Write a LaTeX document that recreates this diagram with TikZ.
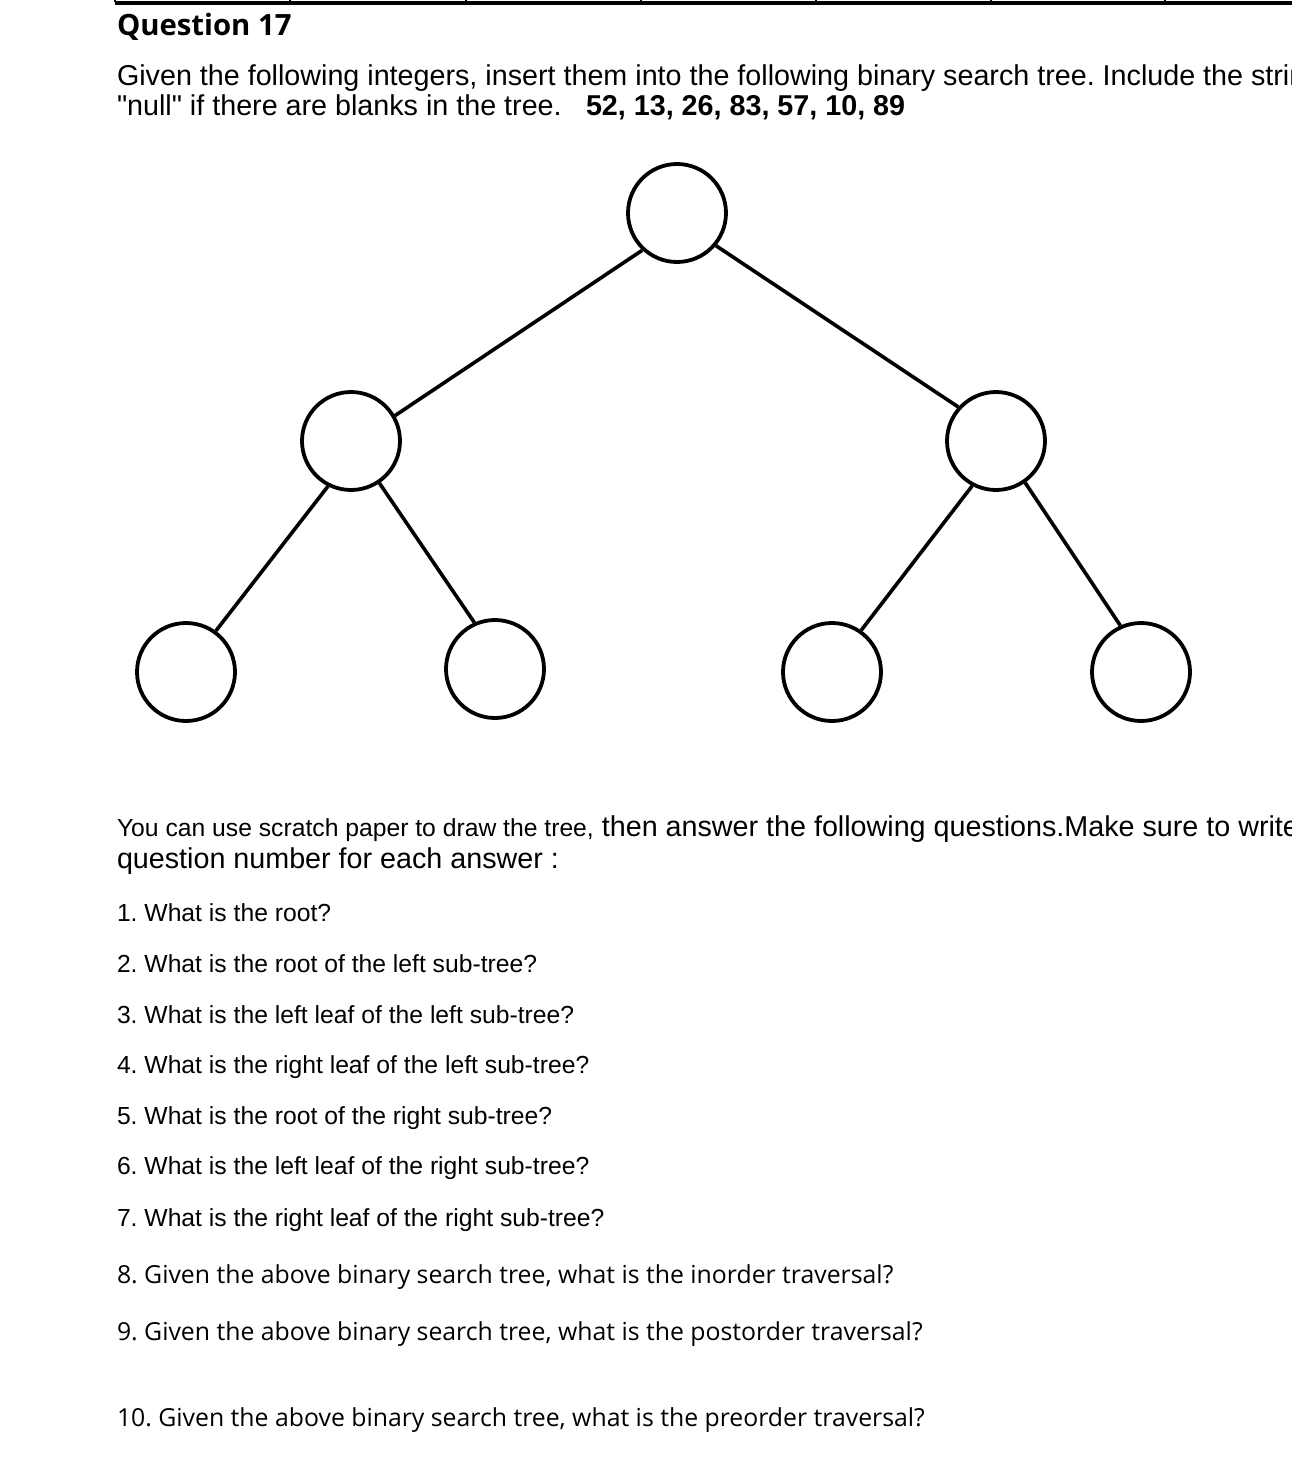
\documentclass[tikz,border=0pt]{standalone}
\usepackage{fontspec}
\newfontfamily\arialf{Liberation Sans}
\newfontfamily\osans{Open Sans}
\frenchspacing
\begin{document}
\begin{tikzpicture}[x=1pt,y=-1pt,
  tnode/.style={circle, draw, line width=3.8pt, minimum size=98pt, inner sep=0pt},
  edge/.style={line width=3.6pt},
  txt/.style={anchor=base west, inner sep=0pt, outer sep=0pt},
  big/.style={font=\arialf\fontsize{28.7}{33}\selectfont},
  item/.style={font=\arialf\fontsize{24.7}{30}\selectfont},
  oitem/.style={font=\osans\fontsize{24.8}{30}\selectfont}]
\useasboundingbox (0,0) rectangle (1292,1466);
\clip (0,0) rectangle (1292,1466);
\fill[white] (0,0) rectangle (1292,1466);
% table border at top
\fill[black] (115,1.5) rectangle (1292,5.5);
\foreach \x in {115,290,466,641,816,991,1165} \fill[black] (\x-1,0) rectangle (\x+1,2.5);
% title and statement
\node[txt, font=\osans\bfseries\fontsize{29.3}{34}\selectfont] (title) at (117,36) {Question 17};
\node[txt, big] (g1) at (117,86) {Given the following integers, insert them into the following binary search tree. Include the string};
\node[txt, big] (g2) at (117,116) {"null" if there are blanks in the tree.};
\node[txt, font=\arialf\bfseries\fontsize{28.7}{33}\selectfont] (nums) at (586,116) {52, 13, 26, 83, 57, 10, 89};
% tree
\node[tnode] (r) at (677,213) {};
\node[tnode] (a) at (351,441) {};
\node[tnode] (b) at (996,441) {};
\node[tnode] (c) at (186,672) {};
\node[tnode] (d) at (495,669) {};
\node[tnode] (e) at (832,672) {};
\node[tnode] (f) at (1141,672) {};
\draw[edge] (r.227) -- (a.30);
\draw[edge] (r.320) -- (b.138);
\draw[edge] (a.243) -- (c.54);
\draw[edge] (a.304) -- (d.114);
\draw[edge] (b.242) -- (e.55);
\draw[edge] (b.305) -- (f.114);
% instructions
\node[txt, big] (s1) at (117,836) {{\fontsize{24.7}{30}\selectfont You can use scratch paper to draw the tree,} then answer the following questions.Make sure to write the};
\node[txt, big] (s2) at (117,868) {question number for each answer :};
% questions
\node[txt, item] (q1) at (117,921) {1. What is the root?};
\node[txt, item] (q2) at (117,972) {2. What is the root of the left sub-tree?};
\node[txt, item] (q3) at (117,1023) {3. What is the left leaf of the left sub-tree?};
\node[txt, item] (q4) at (117,1073) {4. What is the right leaf of the left sub-tree?};
\node[txt, item] (q5) at (117,1124) {5. What is the root of the right sub-tree?};
\node[txt, item] (q6) at (117,1174) {6. What is the left leaf of the right sub-tree?};
\node[txt, item] (q7) at (117,1226) {7. What is the right leaf of the right sub-tree?};
\node[txt, oitem] (q8) at (117,1283) {8. Given the above binary search tree, what is the inorder traversal?};
\node[txt, oitem] (q9) at (117,1340) {9. Given the above binary search tree, what is the postorder traversal?};
\node[txt, oitem] (q10) at (117,1426) {10. Given the above binary search tree, what is the preorder traversal?};
\end{tikzpicture}
\end{document}
